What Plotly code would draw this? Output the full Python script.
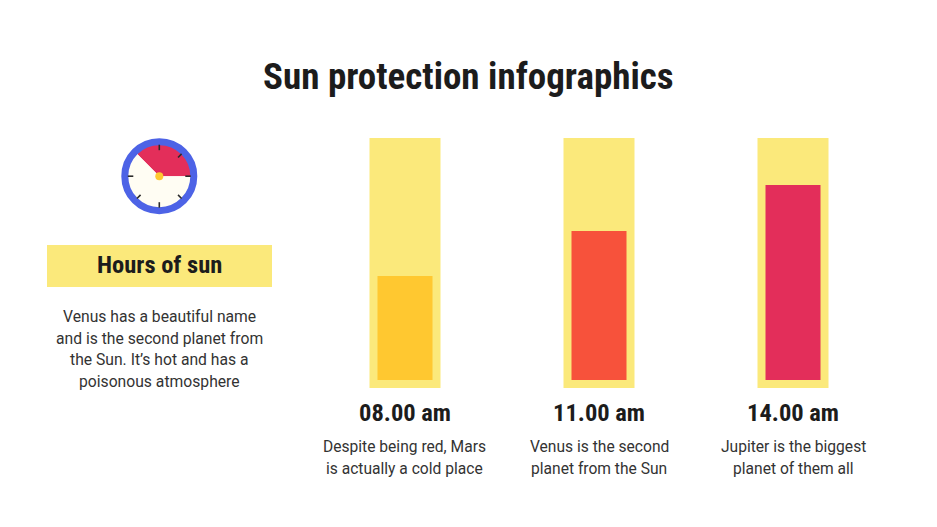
import math
from plotly import graph_objects as go

W, H = 937, 527

hours = ["08.00 am", "11.00 am", "14.00 am"]
track = [100, 100, 100]
levels = [44.8, 62.8, 81.2]
level_base = 3.2
level_colors = ["#FFC830", "#F7523B", "#E32E5A"]
side_lines = ["Venus has a beautiful name", "and is the second planet from",
              "the Sun. It’s hot and has a", "poisonous atmosphere"]
captions = [["Despite being red, Mars", "is actually a cold place"],
            ["Venus is the second", "planet from the Sun"],
            ["Jupiter is the biggest", "planet of them all"]]
caption_x = [404, 599, 793.5]
clock_share = [135, 225]
clock_colors = ["#E32E5A", "#FFFDF3"]

TITLE_FONT = "Roboto Condensed, Roboto"
BODY_FONT = "Roboto"
YELLOW = "#FBE97B"
DARK = "#1C1C1C"
BODY = "#333333"
BLUE = "#4D63E6"


def px(x):
    return x / W


def py(y):
    return 1 - y / H


def text(x, y, s, size, family=BODY_FONT, color=BODY, weight="normal"):
    return dict(x=px(x), y=py(y), xref="paper", yref="paper", text=s, showarrow=False,
                xanchor="center", yanchor="middle", align="center",
                font=dict(family=family, size=size, color=color, weight=weight))


def circle(cx, cy, r, **kw):
    return dict(type="circle", xref="paper", yref="paper", x0=px(cx - r), x1=px(cx + r),
                y0=py(cy + r), y1=py(cy - r), **kw)


fig = go.Figure()

# tracks and levels
fig.add_trace(go.Bar(x=hours, y=track, width=0.366, marker=dict(color=YELLOW, line_width=0),
                     hoverinfo="skip"))
fig.add_trace(go.Bar(x=hours, y=[v - level_base for v in levels], base=level_base, width=0.2835,
                     marker=dict(color=level_colors, line_width=0), hoverinfo="skip"))

# clock face
CX, CY = 159.3, 176.2
fig.add_trace(go.Pie(values=clock_share, marker=dict(colors=clock_colors, line_width=0),
                     rotation=-45, sort=False, direction="clockwise", textinfo="none",
                     hoverinfo="skip", showlegend=False,
                     domain=dict(x=[px(CX - 32), px(CX + 32)], y=[py(CY + 32), py(CY - 32)])))

shapes = [
    dict(type="rect", xref="paper", yref="paper", x0=px(47), x1=px(272), y0=py(287), y1=py(245),
         fillcolor=YELLOW, line_width=0, layer="below"),
    circle(CX, CY, 34.5, line=dict(color=BLUE, width=7), fillcolor="rgba(0,0,0,0)"),
    circle(CX, CY, 4, fillcolor="#FFC830", line_width=0),
]
# no tick at upper left, the edge of the red slice sits there
for i in [0, 1, 2, 3, 4, 6, 7]:
    a = math.radians(i * 45)
    inner = 26 if i % 2 == 0 else 26.5
    shapes.append(dict(type="line", xref="paper", yref="paper",
                       x0=px(CX + inner * math.cos(a)), y0=py(CY + inner * math.sin(a)),
                       x1=px(CX + 31.5 * math.cos(a)), y1=py(CY + 31.5 * math.sin(a)),
                       line=dict(color="#2A2A2A", width=1.6)))

annotations = [
    text(468.5, 76, "Sun protection infographics", 37, TITLE_FONT, DARK, "bold"),
    text(159.5, 264.5, "Hours of sun", 24.5, TITLE_FONT, DARK, "bold"),
]
for i, line in enumerate(side_lines):
    annotations.append(text(159.5, 316.5 + i * 21.7, line, 15.7))
for x, lines in zip(caption_x, captions):
    for i, line in enumerate(lines):
        annotations.append(text(x, 447 + i * 22, line, 15.6))

fig.update_layout(
    width=W, height=H, autosize=False, margin=dict(l=0, r=0, t=0, b=0),
    paper_bgcolor="white", plot_bgcolor="white", showlegend=False, barmode="overlay",
    xaxis=dict(domain=[px(308), px(890)], range=[-0.5, 2.5], type="category",
               showgrid=False, zeroline=False, showline=False, ticks="outside", ticklen=3,
               tickcolor="rgba(0,0,0,0)",
               tickfont=dict(family=TITLE_FONT, size=24.5, color=DARK, weight="bold")),
    yaxis=dict(domain=[py(388), py(138)], range=[0, 100], visible=False),
    shapes=shapes, annotations=annotations,
)

fig.write_html("out.html", config=dict(displayModeBar=False),
               post_script="document.body.style.margin='0';")
